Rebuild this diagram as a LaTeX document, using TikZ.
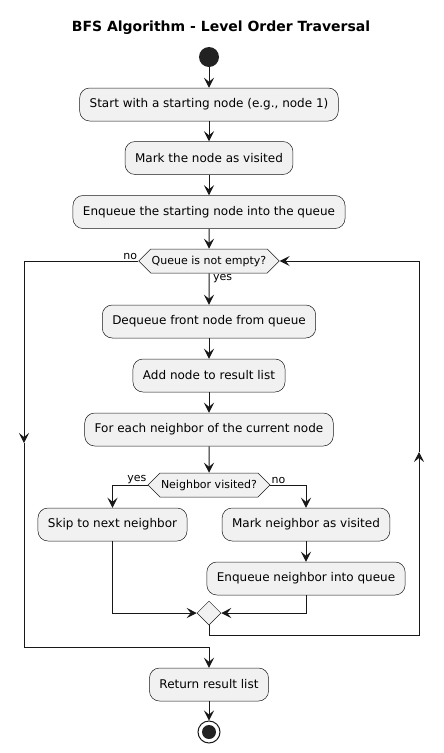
\documentclass[tikz,border=0pt]{standalone}
\usepackage{fontspec}
\setmainfont{DejaVu Sans}
\usetikzlibrary{arrows.meta,shapes.geometric,shapes.symbols}
\definecolor{actfill}{HTML}{F1F1F1}
\definecolor{umlline}{HTML}{181818}
\definecolor{dotfill}{HTML}{222222}

\tikzset{
  activity/.style={draw=umlline, line width=0.5pt, fill=actfill, rounded corners=10pt,
    minimum height=33pt, inner xsep=10pt, font=\fontsize{12}{14}\selectfont},
  choice/.style={draw=umlline, line width=0.5pt, fill=actfill, signal, signal to=east and west,
    signal pointer angle=90, minimum height=24pt, inner xsep=1pt, inner ysep=0pt,
    font=\fontsize{11}{13}\selectfont},
  merger/.style={draw=umlline, line width=0.5pt, fill=actfill, diamond, aspect=1,
    minimum size=24pt, inner sep=0pt},
  guard/.style={font=\fontsize{11}{13}\selectfont, inner sep=1pt},
  flow/.style={draw=umlline, line width=1pt}
}

\begin{document}
\begin{tikzpicture}[x=1pt, y=-1pt, >={Stealth[length=10pt,width=10pt,inset=4pt]}]

        % Page
        \useasboundingbox (0,0) rectangle (444,753);

        % Title
        \node[font=\bfseries\fontsize{14}{16}\selectfont] (title) at (221,28)
            {BFS Algorithm - Level Order Traversal};

        % Start and stop markers
        \node[circle, fill=dotfill, minimum size=20pt, inner sep=0pt] (start) at (209,57) {};
        \node[circle, draw=umlline, line width=1pt, minimum size=22pt, inner sep=0pt] (stop) at (209,732) {};
        \fill[dotfill] (stop.center) circle (7pt);

        % Main sequence
        \node[activity] (init)  at (209,104.5) {Start with a starting node (e.g., node 1)};
        \node[activity] (visit) at (209,158)   {Mark the node as visited};
        \node[activity] (push)  at (209,212)   {Enqueue the starting node into the queue};
        \node[choice]   (queue) at (209,261)   {Queue is not empty?};
        \node[activity] (pop)   at (209,321.5) {Dequeue front node from queue};
        \node[activity] (add)   at (209,375.5) {Add node to result list};
        \node[activity] (each)  at (209,429.5) {For each neighbor of the current node};
        \node[choice]   (seen)  at (209,485)   {Neighbor visited?};

        % Branches
        \node[activity] (skip)  at (112.5,524.5) {Skip to next neighbor};
        \node[activity] (mark)  at (306,524.5)   {Mark neighbor as visited};
        \node[activity] (enq)   at (306,578.5)   {Enqueue neighbor into queue};
        \node[merger]   (merge) at (209,613)     {};

        % End
        \node[activity] (ret)   at (209,684.5) {Return result list};

        % Loop corners
        \coordinate (lt) at (24,261);
        \coordinate (lm) at (24,443);
        \coordinate (lb) at (24,647);
        \coordinate (rb) at (419,635);
        \coordinate (rm) at (419,452);
        \coordinate (rt) at (419,261);

        % Straight flow
        \draw[flow,->] (start) -- (init);
        \draw[flow,->] (init) -- (visit);
        \draw[flow,->] (visit) -- (push);
        \draw[flow,->] (push) -- (queue);
        \draw[flow,->] (queue) -- (pop);
        \draw[flow,->] (pop) -- (add);
        \draw[flow,->] (add) -- (each);
        \draw[flow,->] (each) -- (seen);

        % Neighbor branches
        \draw[flow,->] (seen.west) -| (skip.north);
        \draw[flow,->] (seen.east) -| (mark.north);
        \draw[flow,->] (mark) -- (enq);
        \draw[flow,->] (skip.south) |- (merge.west);
        \draw[flow,->] (enq.south) |- (merge.east);

        % Back to the queue test
        \draw[flow,->] (merge.south) |- (rb) -- (rm);
        \draw[flow,->] (rm) -- (rt) -- (queue.east);

        % Queue empty
        \draw[flow,->] (queue.west) -- (lt) -- (lm);
        \draw[flow,->] (lm) -- (lb) -| (ret.north);
        \draw[flow,->] (ret) -- (stop);

        % Guards
        \node[guard, anchor=north west] (qyes) at ([xshift=3pt]queue.south) {yes};
        \node[guard, anchor=south east] (qno)  at (queue.west) {no};
        \node[guard, anchor=south east] (syes) at (seen.west) {yes};
        \node[guard, anchor=south west] (sno)  at (seen.east) {no};

    \end{tikzpicture}
\end{document}
